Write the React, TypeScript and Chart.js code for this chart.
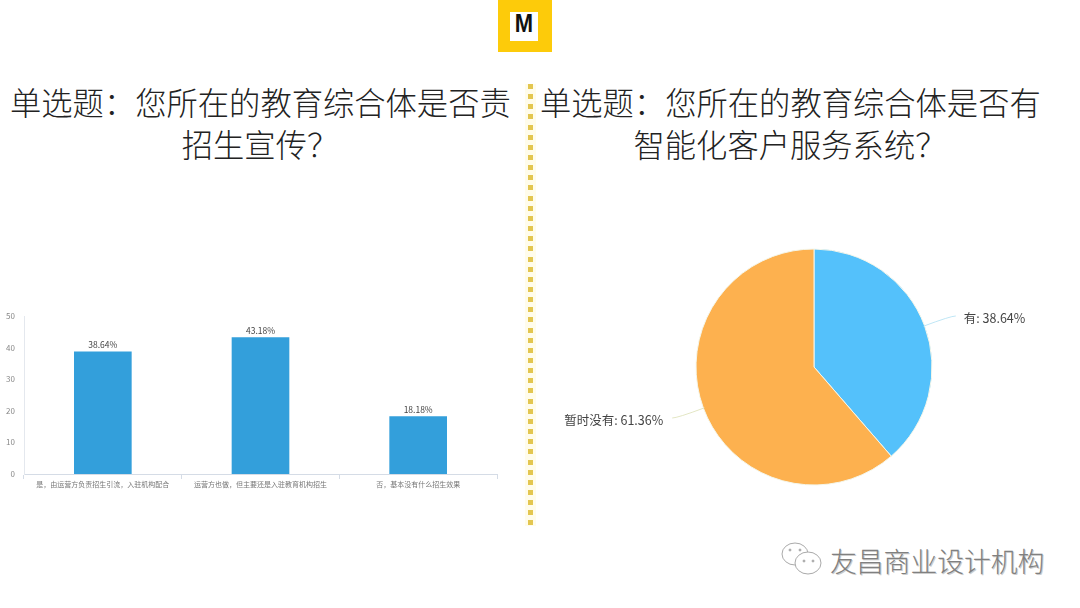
import React, { useEffect, useRef } from "react";
import { Chart, registerables } from "chart.js";

Chart.register(...registerables);

const barCategories = ["是\uFF0C由运营方负责招生引流\uFF0C入驻机构配合", "运营方也做\uFF0C但主要还是入驻教育机构招生", "否\uFF0C基本没有什么招生效果"];
const barValues = [38.64, 43.18, 18.18];
const barTicks = [0, 10, 20, 30, 40, 50];
const pieCategories = ["有", "暂时没有"];
const pieValues = [38.64, 61.36];
const pieColors = ["#54C1FB", "#FDB14F"];
const leftTitle = ["单选题\uFF1A您所在的教育综合体是否责", "招生宣传\uFF1F"];
const rightTitle = ["单选题\uFF1A您所在的教育综合体是否有", "智能化客户服务系统\uFF1F"];
const footer = "友昌商业设计机构";

const CJK = '"Noto Sans CJK SC", "Noto Sans", sans-serif';

const barLabels = {
  id: "barLabels",
  afterDatasetsDraw(chart: any) {
    const { ctx } = chart;
    const meta = chart.getDatasetMeta(0);
    ctx.save();
    ctx.font = `8.5px ${CJK}`;
    ctx.fillStyle = "#444";
    ctx.textAlign = "center";
    ctx.textBaseline = "bottom";
    meta.data.forEach((el: any, i: number) => {
      ctx.fillText(barValues[i].toFixed(2) + "%", el.x, el.y - 3);
    });
    ctx.restore();
  },
};

const pieLabels = {
  id: "pieLabels",
  afterDatasetsDraw(chart: any) {
    const { ctx } = chart;
    const meta = chart.getDatasetMeta(0);
    ctx.save();
    ctx.font = `12.5px ${CJK}`;
    ctx.textBaseline = "middle";
    meta.data.forEach((el: any, i: number) => {
      const mid = (el.startAngle + el.endAngle) / 2;
      const r = el.outerRadius;
      const ax = el.x + Math.cos(mid) * (r - 1);
      const ay = el.y + Math.sin(mid) * (r - 1);
      const bx = el.x + Math.cos(mid) * (r + 28);
      const by = el.y + Math.sin(mid) * (r + 28);
      const right = Math.cos(mid) >= 0;
      const cx = bx + (right ? 5 : -5);
      ctx.strokeStyle = i === 0 ? "#BFE6F5" : "#E3E6C4";
      ctx.lineWidth = 1;
      ctx.beginPath();
      ctx.moveTo(ax, ay);
      ctx.quadraticCurveTo(bx, by, cx, by);
      ctx.stroke();
      ctx.fillStyle = "#444";
      ctx.textAlign = right ? "left" : "right";
      ctx.fillText(`${pieCategories[i]}: ${pieValues[i].toFixed(2)}%`, cx + (right ? 8 : -9), by + 2.5);
    });
    ctx.restore();
  },
};

const abs = (l: number, t: number, w: number, h: number): React.CSSProperties => ({
  position: "absolute", left: l, top: t, width: w, height: h,
});

function Title({ lines, left, width }: { lines: string[]; left: number; width: number }) {
  return (
    <div style={{ ...abs(left, 81, width, 90), textAlign: "center", fontFamily: CJK, fontSize: 31.3, lineHeight: "42px", color: "#222", fontWeight: 300, whiteSpace: "nowrap" }}>
      {lines.map((l) => <div key={l}>{l}</div>)}
    </div>
  );
}

export default function App() {
  const barRef = useRef<HTMLCanvasElement>(null);
  const pieRef = useRef<HTMLCanvasElement>(null);

  useEffect(() => {
    const bar = new Chart(barRef.current!, {
      type: "bar",
      data: {
        labels: barCategories,
        datasets: [{ data: barValues, backgroundColor: "#339FDB", barThickness: 57 }],
      },
      plugins: [barLabels],
      options: {
        animation: false,
        responsive: false,
        layout: { padding: { top: 16, right: 13, bottom: 0, left: 0 } },
        plugins: { legend: { display: false }, tooltip: { enabled: false } },
        scales: {
          x: {
            grid: { display: true, drawOnChartArea: false, drawTicks: true, tickLength: 5, color: "#D5DCE6" },
            border: { color: "#D5DCE6" },
            ticks: { color: "#777", font: { size: 7, family: CJK }, maxRotation: 0, autoSkip: false, padding: 1 },
            afterFit: (s: any) => { s.height = 26; },
          },
          y: {
            min: 0, max: 50,
            afterBuildTicks: (s: any) => { s.ticks = barTicks.map((value) => ({ value })); },
            grid: { display: false },
            border: { color: "#E4E8EE" },
            ticks: { color: "#888", font: { size: 8, family: CJK }, padding: 1 },
            afterFit: (s: any) => { s.width = 24; },
          },
        },
      },
    } as any);
    const pie = new Chart(pieRef.current!, {
      type: "pie",
      data: {
        labels: pieCategories,
        datasets: [{ data: pieValues, backgroundColor: pieColors, borderColor: "#F4F6EA", borderWidth: 1, radius: 118 }],
      },
      plugins: [pieLabels],
      options: {
        animation: false,
        responsive: false,
        plugins: { legend: { display: false }, tooltip: { enabled: false } },
      },
    } as any);
    return () => { bar.destroy(); pie.destroy(); };
  }, []);

  return (
    <div style={{ ...abs(0, 0, 1080, 608), background: "#fff", overflow: "hidden" }}>
      <div style={{ ...abs(498, 0, 54, 52), background: "#FDCB0A" }} />
      <div style={{ ...abs(510, 12, 28, 29), background: "#fff" }} />
      <div style={{ ...abs(510, 13, 28, 22), textAlign: "center", fontFamily: "Liberation Sans", fontWeight: 700, fontSize: 22, lineHeight: "22px", color: "#111", transform: "scaleY(1.15)" }}>M</div>
      <Title lines={leftTitle} left={10} width={500} />
      <Title lines={rightTitle} left={540} width={500} />
      <div style={{ ...abs(525, 84, 11, 442), background: "#FFFCEB" }} />
      <div style={{ ...abs(528, 84, 5, 441.5), background: "repeating-linear-gradient(to bottom, #E3C650 0 5px, transparent 5px 10.15px)" }} />
      <canvas ref={barRef} width={510} height={200} style={{ ...abs(0, 300, 510, 200), display: "block" }} />
      <canvas ref={pieRef} width={500} height={300} style={{ ...abs(564, 217, 500, 300), display: "block" }} />
      <svg style={abs(780, 540, 46, 40)} viewBox="0 0 46 40" fill="#fff" stroke="#aaa" strokeWidth="1">
        <ellipse cx="15" cy="14" rx="13" ry="11" />
        <ellipse cx="28" cy="23" rx="13" ry="11" />
        <circle cx="10" cy="10" r="1" fill="#aaa" /><circle cx="20" cy="10" r="1" fill="#aaa" />
        <circle cx="24" cy="21" r="1" fill="#aaa" /><circle cx="33" cy="21" r="1" fill="#aaa" />
      </svg>
      <div style={{ ...abs(830, 544, 230, 34), fontFamily: CJK, fontSize: 26.8, lineHeight: "34px", color: "#808080", textShadow: "1px 1px 0 #ccc", whiteSpace: "nowrap", fontWeight: 300 }}>{footer}</div>
    </div>
  );
}
